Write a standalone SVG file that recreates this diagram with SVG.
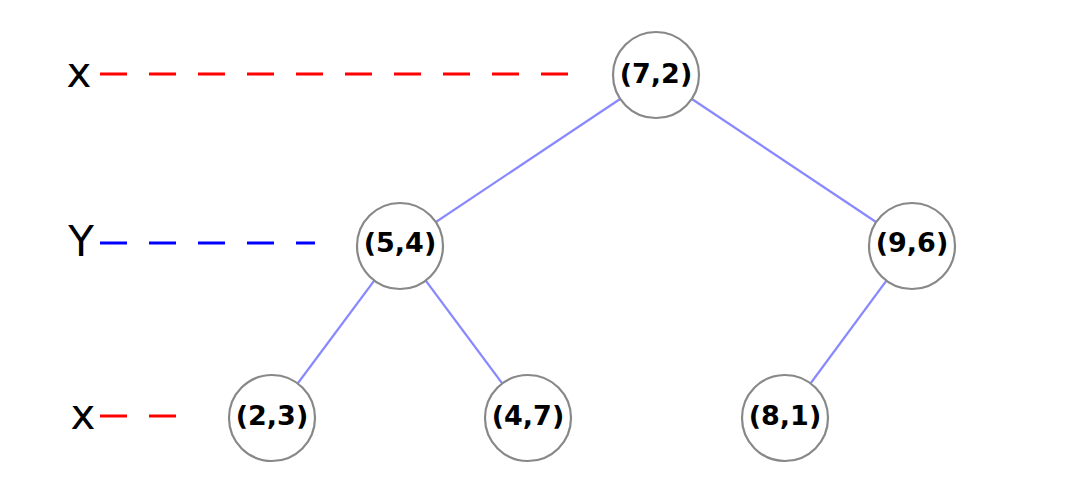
<svg xmlns="http://www.w3.org/2000/svg" width="1068" height="488" viewBox="0 0 1068 488">
<style>
.n circle{fill:#fff;stroke:#888;stroke-width:2.2}
.n text{font-family:"DejaVu Sans",sans-serif;font-weight:bold;font-size:27px;text-anchor:middle;dominant-baseline:central;fill:#000}
.e line{stroke:#8888ff;stroke-width:2.2}
.d{stroke-width:3;stroke-dasharray:27 22;fill:none}
.l{font-family:"DejaVu Sans",sans-serif;font-size:42px;fill:#000;text-anchor:middle;dominant-baseline:central}
</style>
<rect width="1068" height="488" fill="#fff"/>
<g id="guides">
<line class="d" x1="100" y1="74" x2="570" y2="74" stroke="#ff0000"/>
<line class="d" x1="100" y1="243" x2="315" y2="243" stroke="#0000ff"/>
<line class="d" x1="100" y1="416" x2="185" y2="416" stroke="#ff0000"/>
<text class="l" x="79" y="72">x</text>
<text class="l" x="81" y="241">Y</text>
<text class="l" x="83" y="414">x</text>
</g>
<g id="connectors" class="e">
<line x1="656" y1="75" x2="400" y2="246"/>
<line x1="656" y1="75" x2="912" y2="246"/>
<line x1="400" y1="246" x2="272" y2="418"/>
<line x1="400" y1="246" x2="528" y2="418"/>
<line x1="912" y1="246" x2="785" y2="418"/>
</g>
<g id="n72" class="n"><circle cx="656" cy="75" r="43"/><text x="656" y="73">(7,2)</text></g>
<g id="n54" class="n"><circle cx="400" cy="246" r="43"/><text x="400" y="242">(5,4)</text></g>
<g id="n96" class="n"><circle cx="912" cy="246" r="43"/><text x="912" y="242">(9,6)</text></g>
<g id="n23" class="n"><circle cx="272" cy="418" r="43"/><text x="272" y="415">(2,3)</text></g>
<g id="n47" class="n"><circle cx="528" cy="418" r="43"/><text x="528" y="415">(4,7)</text></g>
<g id="n81" class="n"><circle cx="785" cy="418" r="43"/><text x="785" y="415">(8,1)</text></g>
</svg>
